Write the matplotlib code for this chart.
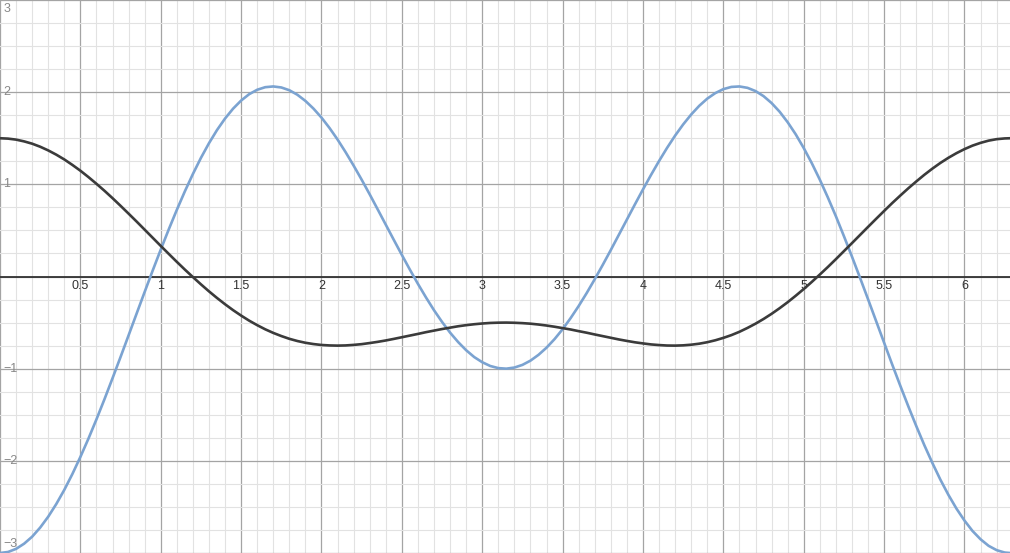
import numpy as np
import matplotlib.pyplot as plt
from matplotlib.ticker import MultipleLocator

plt.rcParams['font.family'] = ['Liberation Sans', 'DejaVu Sans']

x_vals = [0.0, 0.05, 0.1, 0.15, 0.2, 0.25, 0.3, 0.35, 0.4, 0.45,
          0.5, 0.55, 0.6, 0.65, 0.7, 0.75, 0.8, 0.85, 0.9, 0.95,
          1.0, 1.05, 1.1, 1.15, 1.2, 1.25, 1.3, 1.35, 1.4, 1.45,
          1.5, 1.55, 1.6, 1.65, 1.7, 1.75, 1.8, 1.85, 1.9, 1.95,
          2.0, 2.05, 2.1, 2.15, 2.2, 2.25, 2.3, 2.35, 2.4, 2.45,
          2.5, 2.55, 2.6, 2.65, 2.7, 2.75, 2.8, 2.85, 2.9, 2.95,
          3.0, 3.05, 3.1, 3.15, 3.2, 3.25, 3.3, 3.35, 3.4, 3.45,
          3.5, 3.55, 3.6, 3.65, 3.7, 3.75, 3.8, 3.85, 3.9, 3.95,
          4.0, 4.05, 4.1, 4.15, 4.2, 4.25, 4.3, 4.35, 4.4, 4.45,
          4.5, 4.55, 4.6, 4.65, 4.7, 4.75, 4.8, 4.85, 4.9, 4.95,
          5.0, 5.05, 5.1, 5.15, 5.2, 5.25, 5.3, 5.35, 5.4, 5.45,
          5.5, 5.55, 5.6, 5.65, 5.7, 5.75, 5.8, 5.85, 5.9, 5.95,
          6.0, 6.05, 6.1, 6.15, 6.2, 6.25, 6.2832]

dark_vals = [1.500, 1.496, 1.485, 1.466, 1.441, 1.408, 1.368, 1.322, 1.270, 1.211,
             1.148, 1.079, 1.006, 0.930, 0.850, 0.767, 0.682, 0.596, 0.508, 0.420,
             0.332, 0.245, 0.159, 0.075, -0.006, -0.085, -0.161, -0.233, -0.301, -0.365,
             -0.424, -0.479, -0.528, -0.573, -0.612, -0.646, -0.676, -0.700, -0.719, -0.733,
             -0.743, -0.748, -0.750, -0.748, -0.742, -0.734, -0.722, -0.709, -0.694, -0.677,
             -0.659, -0.641, -0.623, -0.604, -0.587, -0.570, -0.555, -0.540, -0.528, -0.518,
             -0.510, -0.504, -0.501, -0.500, -0.502, -0.506, -0.512, -0.521, -0.532, -0.545,
             -0.560, -0.575, -0.593, -0.610, -0.629, -0.647, -0.665, -0.683, -0.699, -0.714,
             -0.726, -0.737, -0.744, -0.749, -0.750, -0.747, -0.740, -0.729, -0.713, -0.692,
             -0.666, -0.636, -0.600, -0.558, -0.512, -0.461, -0.405, -0.344, -0.279, -0.209,
             -0.136, -0.059, 0.021, 0.103, 0.188, 0.275, 0.362, 0.450, 0.538, 0.625,
             0.711, 0.796, 0.877, 0.956, 1.031, 1.103, 1.170, 1.232, 1.288, 1.338,
             1.382, 1.420, 1.450, 1.474, 1.490, 1.498, 1.500]

blue_vals = [-3.000, -2.989, -2.955, -2.899, -2.823, -2.724, -2.606, -2.469, -2.315, -2.144,
             -1.958, -1.760, -1.550, -1.331, -1.104, -0.873, -0.638, -0.402, -0.167, 0.065,
             0.292, 0.512, 0.723, 0.924, 1.112, 1.287, 1.446, 1.589, 1.714, 1.821,
             1.909, 1.978, 2.026, 2.054, 2.062, 2.051, 2.021, 1.972, 1.905, 1.822,
             1.724, 1.611, 1.486, 1.349, 1.203, 1.050, 0.891, 0.727, 0.562, 0.397,
             0.234, 0.074, -0.080, -0.227, -0.366, -0.493, -0.609, -0.711, -0.800, -0.874,
             -0.930, -0.971, -0.994, -1.000, -0.988, -0.959, -0.913, -0.850, -0.772, -0.679,
             -0.572, -0.451, -0.320, -0.179, -0.029, 0.127, 0.288, 0.453, 0.618, 0.783,
             0.945, 1.102, 1.253, 1.396, 1.529, 1.650, 1.758, 1.852, 1.930, 1.990,
             2.033, 2.057, 2.062, 2.047, 2.012, 1.957, 1.882, 1.788, 1.674, 1.543,
             1.394, 1.230, 1.051, 0.858, 0.654, 0.438, 0.216, -0.013, -0.246, -0.482,
             -0.718, -0.953, -1.182, -1.406, -1.622, -1.829, -2.022, -2.204, -2.369, -2.518,
             -2.648, -2.761, -2.851, -2.922, -2.969, -2.995, -3.000]

x_labels = [0.5, 1, 1.5, 2, 2.5, 3, 3.5, 4, 4.5, 5, 5.5, 6]
y_labels = [-3, -2, -1, 1, 2, 3]

fig = plt.figure(figsize=(10.10, 5.53), dpi=100)
ax = fig.add_axes([0, 0, 1, 1])
ax.set_xlim(0, 6.2832)
ax.set_ylim(-3, 3)

# grid like a graphing calculator
ax.xaxis.set_major_locator(MultipleLocator(0.5))
ax.xaxis.set_minor_locator(MultipleLocator(0.1))
ax.yaxis.set_major_locator(MultipleLocator(1))
ax.yaxis.set_minor_locator(MultipleLocator(0.25))
ax.grid(which='major', color='#a4a4a4', linewidth=0.9)
ax.grid(which='minor', color='#e2e2e2', linewidth=0.8)
ax.set_axisbelow(True)
ax.tick_params(which='both', length=0, labelbottom=False, labelleft=False)
for s in ax.spines.values():
    s.set_visible(False)

ax.axhline(0, color='#333333', linewidth=1.3, zorder=2)

ax.plot(x_vals, blue_vals, color='#7ba3d1', linewidth=1.9, zorder=3,
        solid_joinstyle='round', solid_capstyle='round')
ax.plot(x_vals, dark_vals, color='#3b3b3b', linewidth=1.9, zorder=4,
        solid_joinstyle='round', solid_capstyle='round')

for v in x_labels:
    ax.text(v, -0.04, f'{v:g}', ha='center', va='top', fontsize=9, color='#333333')

for v in y_labels:
    lab = f'{v}'.replace('-', '\u2212')
    va = 'center'
    yy = v
    if v == 3:
        va, yy = 'top', 2.97
    elif v == -3:
        va, yy = 'bottom', -2.97
    ax.text(0.02, yy, lab, ha='left', va=va, fontsize=9, color='#888888')

fig.savefig('out.png', dpi=100)
